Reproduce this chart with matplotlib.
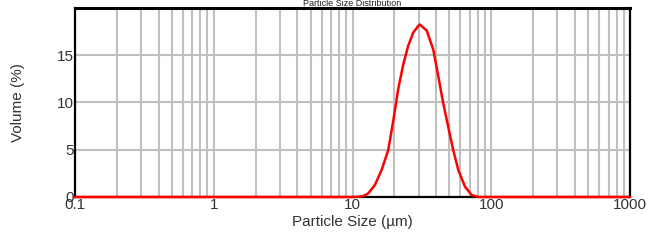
import matplotlib
matplotlib.use('Agg')
import matplotlib.pyplot as plt
from matplotlib.ticker import LogLocator, FixedLocator, FixedFormatter, NullFormatter

plt.rcParams['font.family'] = ['Liberation Sans', 'DejaVu Sans']

# particle size (um) and volume (%)
sizes = [0.1, 10.0, 11.5, 12.2, 13.0, 14.5, 16.2, 18.1, 19.7, 21.4, 23.2,
         25.2, 27.4, 29.8, 30.6, 34.3, 38.2, 41.5, 45.1, 49.0, 53.2,
         57.9, 64.7, 72.3, 78.5, 80.0, 1000.0]
volume = [0.0, 0.0, 0.05, 0.15, 0.39, 1.27, 2.85, 4.96, 8.13, 11.5, 14.0,
          16.0, 17.4, 18.1, 18.25, 17.6, 15.6, 12.8, 9.9, 7.4, 4.96,
          2.85, 1.09, 0.2, 0.05, 0.0, 0.0]

x_ticks = [0.1, 1, 10, 100, 1000]
x_labels = ['0.1', '1', '10', '100', '1000']
y_ticks = [0, 5, 10, 15]

fig = plt.figure(figsize=(6.68, 2.41), dpi=100)
ax = fig.add_axes([75 / 668, 44 / 241, 555 / 668, 189 / 241])

ax.plot(sizes, volume, color='#ff0000', lw=1.8, zorder=3, clip_on=False,
        solid_joinstyle='round', solid_capstyle='round')

ax.set_xscale('log')
ax.set_xlim(0.1, 1000)
ax.set_ylim(0, 20)
ax.xaxis.set_major_locator(FixedLocator(x_ticks))
ax.xaxis.set_major_formatter(FixedFormatter(x_labels))
ax.xaxis.set_minor_locator(LogLocator(base=10, subs=range(2, 10)))
ax.xaxis.set_minor_formatter(NullFormatter())
ax.set_yticks(y_ticks)

ax.grid(True, which='both', axis='x', color='#c0c0c0', lw=1.5)
ax.grid(True, which='major', axis='y', color='#c0c0c0', lw=1.5)
ax.set_axisbelow(True)

ax.tick_params(which='both', length=0, labelsize=11, labelcolor='#333333')
ax.tick_params(axis='x', pad=1)
ax.tick_params(axis='y', pad=1)

for side in ['left', 'right', 'bottom']:
    ax.spines[side].set_linewidth(1.6)
    ax.spines[side].set_color('black')
ax.spines['top'].set_linewidth(2.2)
ax.spines['top'].set_color('black')

ax.set_xlabel('Particle Size (\u00b5m)', fontsize=11, color='#333333', labelpad=2)
ax.set_ylabel('Volume (%)', fontsize=11, color='#333333', labelpad=23)

fig.text(352 / 668, 0.974, 'Particle Size Distribution', fontsize=6.5,
         ha='center', va='baseline', color='#222222')

fig.savefig('out.png', dpi=100)
